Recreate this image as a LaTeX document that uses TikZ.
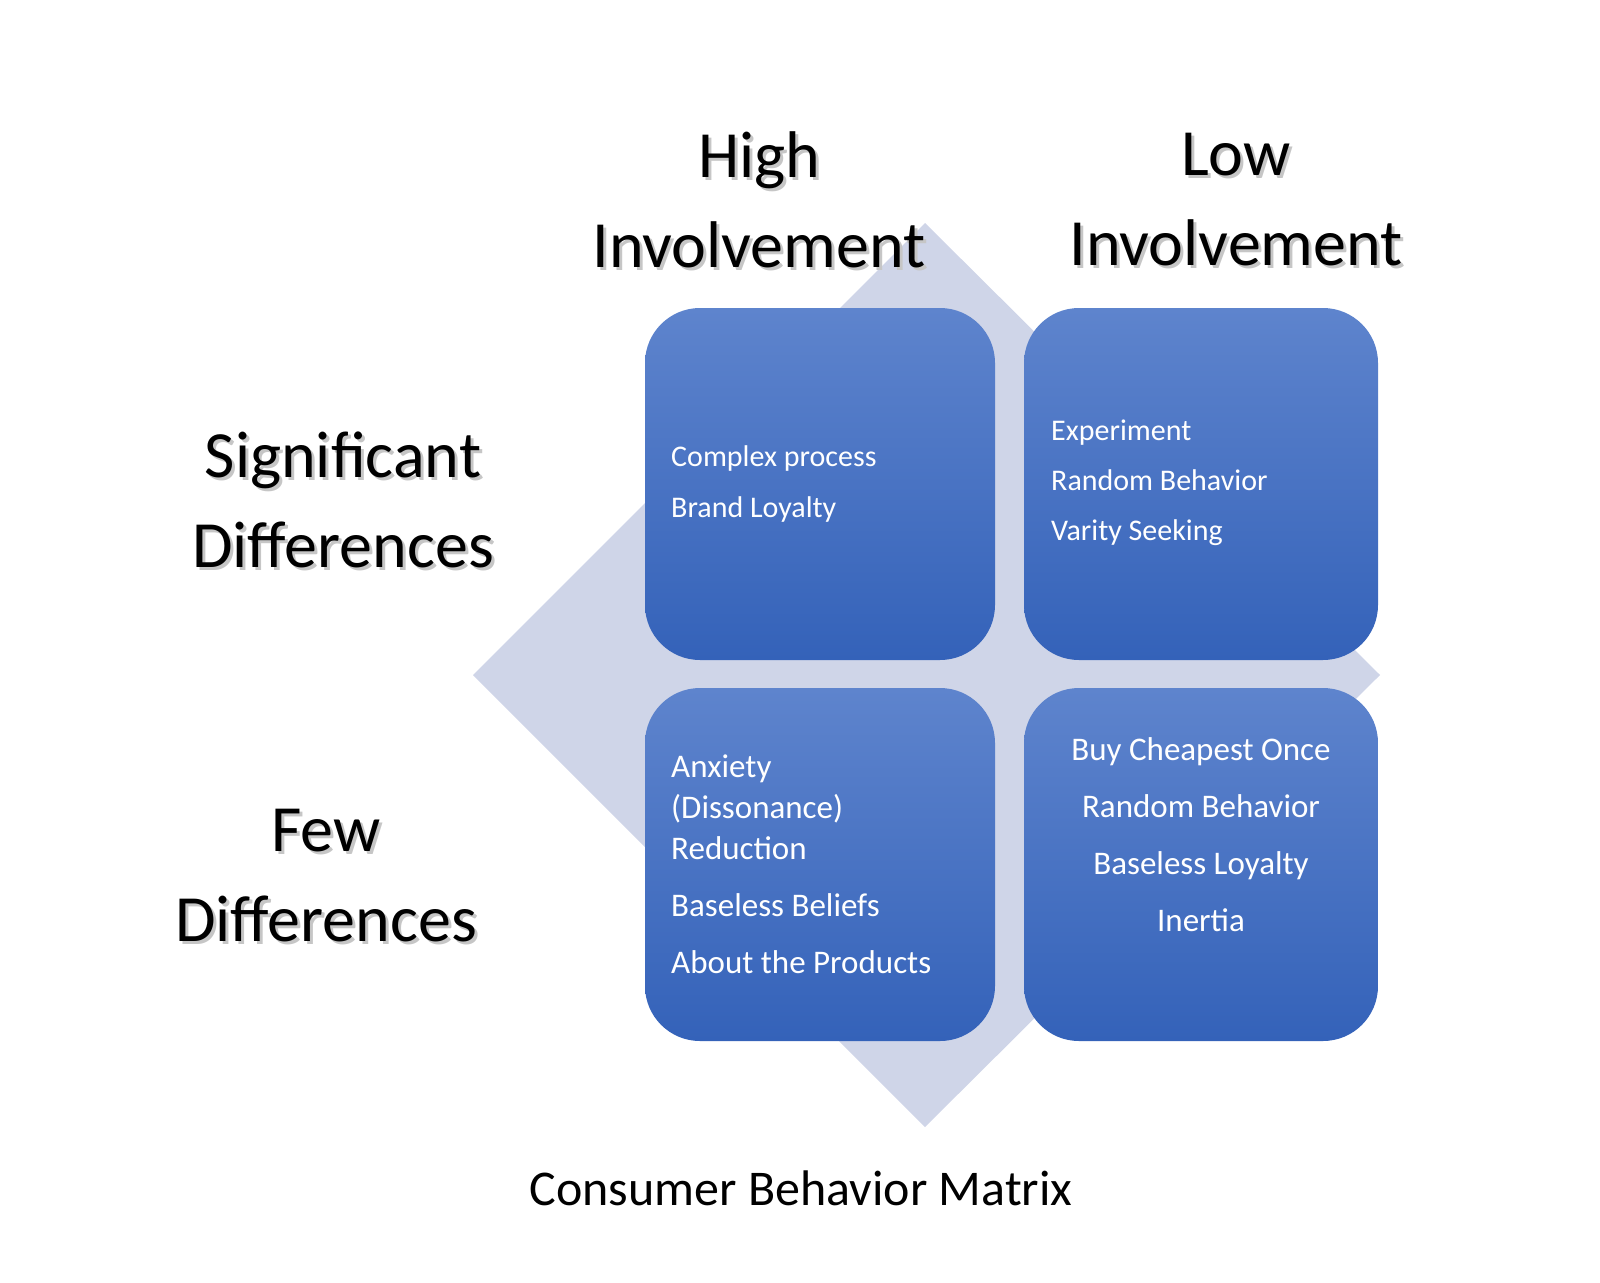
\documentclass[tikz,border=0pt]{standalone}
\usepackage{fontspec}
\setmainfont{Carlito}
\begin{document}
\begin{tikzpicture}[x=1pt,y=-1pt,
 box/.style={rounded corners=55pt,top color=blue1,bottom color=blue2,draw=none},
 head/.style={font=\fontsize{66}{90}\selectfont,align=center,text=black},
 shad/.style={head,text=gray!45,xshift=3pt,yshift=-3pt},
 btxt/.style={text=white,inner sep=0pt}]
\definecolor{blue1}{HTML}{5E84CD}
\definecolor{blue2}{HTML}{3462B9}
\definecolor{dia}{HTML}{CFD5E8}
\useasboundingbox (0,0) rectangle (1600,1282);
\fill[dia] (925,223) coordinate (dt) -- (1380,675) coordinate (dr) -- (925,1127) coordinate (db) -- (473,675) coordinate (dl) -- cycle;
\path[box] (645,308) rectangle (995,660);
\path[box] (1024,308) rectangle (1378,660);
\path[box] (645,688) rectangle (995,1041);
\path[box] (1024,688) rectangle (1378,1041);
\node[shad] (h1s) at (759,200) {High\\Involvement};
\node[head] (h1) at (759,200) {High\\Involvement};
\node[shad] (h2s) at (1236,200) {Low\\Involvement};
\node[head] (h2) at (1236,200) {Low\\Involvement};
\node[shad] (ss) at (343,500) {Significant\\Differences};
\node[head] (s) at (343,500) {Significant\\Differences};
\node[shad] (fs) at (326,876) {Few\\Differences};
\node[head] (f) at (326,876) {Few\\Differences};
\node[btxt,anchor=west,align=left,font=\fontsize{30}{51}\selectfont] (tl) at (671,484) {Complex process\\Brand Loyalty};
\node[btxt,anchor=west,align=left,font=\fontsize{30}{50}\selectfont] (tr) at (1051,483) {Experiment\\Random Behavior\\Varity Seeking};
\node[btxt,anchor=west,align=left,font=\fontsize{33}{41}\selectfont] (bl) at (671,864) {Anxiety\\(Dissonance)\\Reduction\\[16pt]Baseless Beliefs\\[16pt]About the Products};
\node[btxt,align=center,font=\fontsize{33}{57}\selectfont] (br) at (1201,835) {Buy Cheapest Once\\Random Behavior\\Baseless Loyalty\\Inertia};
\node[font=\fontsize{50}{60}\selectfont] (cap) at (801,1188) {Consumer Behavior Matrix};
\end{tikzpicture}
\end{document}
